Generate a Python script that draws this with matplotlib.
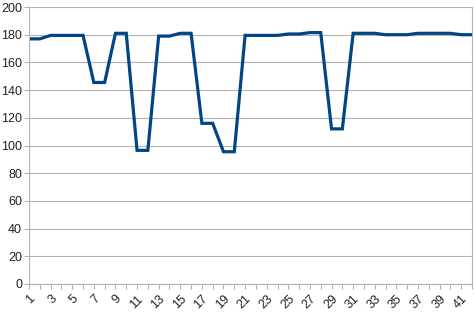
import matplotlib.pyplot as plt

# categories along x axis
days = list(range(1, 43))
# values
values = [177, 177, 179.5, 179.5, 179.5, 179.5, 145.5, 145.5, 181, 181,
          96.5, 96.5, 179, 179, 181, 181, 116, 116, 95.5, 95.5,
          179.5, 179.5, 179.5, 179.5, 180.5, 180.5, 181.5, 181.5, 112, 112,
          181, 181, 181, 180, 180, 180, 181, 181, 181, 181,
          180, 180]
x_labels = [str(d) if d % 2 == 1 else '' for d in days]

plt.rcParams['font.family'] = ['Liberation Sans', 'DejaVu Sans']

fig = plt.figure(figsize=(4.74, 3.13), dpi=100)
ax = fig.add_axes([29 / 474, 1 - 284 / 313, 443 / 474, 277 / 313])

ax.plot(days, values, color='#004586', linewidth=2.3, solid_joinstyle='miter')

ax.set_xlim(1, 42)
ax.set_ylim(0, 200)
ax.set_yticks(range(0, 201, 20))
ax.set_xticks(days)
ax.set_xticklabels(x_labels, rotation=45, ha='right', rotation_mode='anchor')
ax.grid(axis='y', color='#b3b3b3', linewidth=0.8)
ax.set_axisbelow(True)

for side in ['left', 'bottom', 'right']:
    ax.spines[side].set_color('#b3b3b3')
ax.spines['top'].set_visible(False)
ax.tick_params(axis='both', colors='#b3b3b3', labelcolor='#222222', labelsize=9, length=3.5)
ax.tick_params(axis='y', pad=1.5)
ax.tick_params(axis='x', pad=3)

fig.savefig('out.png', dpi=100)
